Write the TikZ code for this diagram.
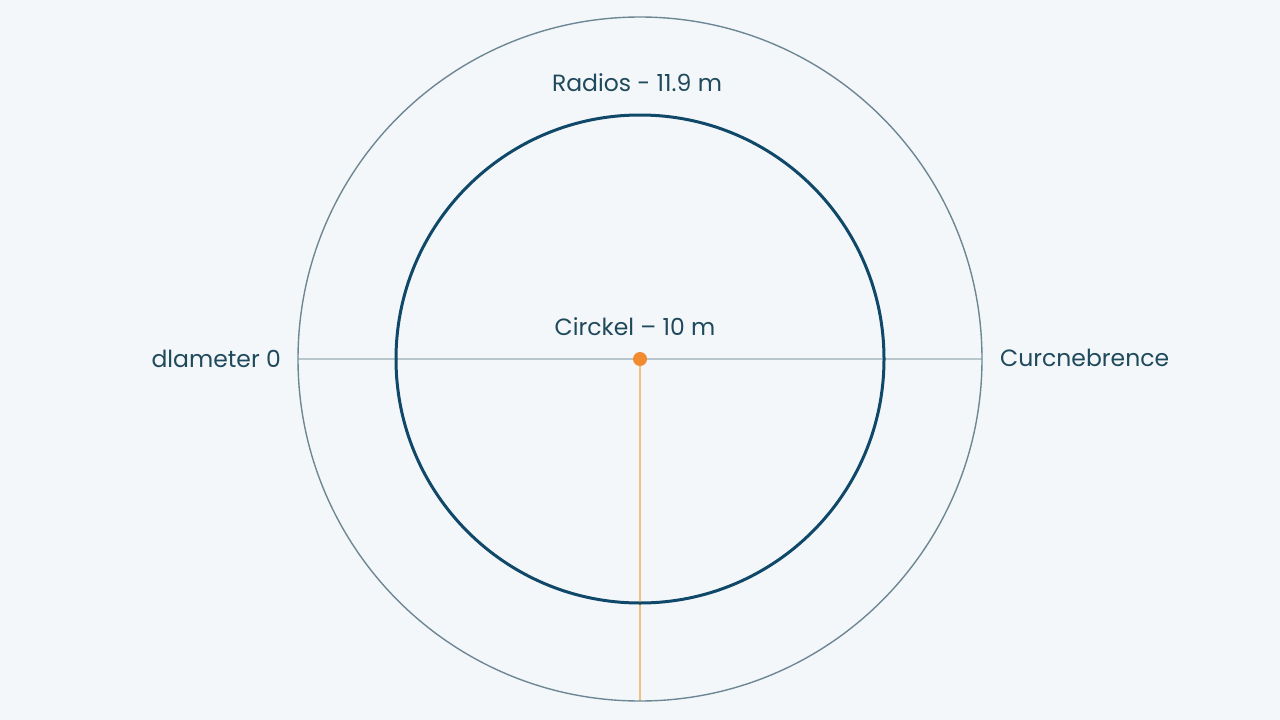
\documentclass[tikz,border=0pt]{standalone}
\usepackage{fontspec}
\setmainfont{Poppins}
\definecolor{bg}{HTML}{F4F7FA}
\definecolor{outerc}{HTML}{6E8794}
\definecolor{innerc}{HTML}{0F4868}
\definecolor{axisc}{HTML}{BAC6CE}
\definecolor{dotc}{HTML}{F28A30}
\definecolor{vlinec}{HTML}{EFC07E}
\definecolor{txtc}{HTML}{1F4A5C}
\tikzset{
  lbl/.style={text=txtc, font=\fontsize{23.5}{28}\selectfont, inner sep=0pt},
  outerring/.style={draw=outerc, line width=1.4pt},
  innerring/.style={draw=innerc, line width=3pt},
}
\begin{document}
\begin{tikzpicture}[x=1pt,y=-1pt]
\fill[bg] (0,0) rectangle (1280,720);
\useasboundingbox (0,0) rectangle (1280,720);
\coordinate (c) at (640,359);
\coordinate (left) at (298,359);
\coordinate (right) at (982,359);
\coordinate (bottom) at (640,701);
\draw[axisc, line width=1.2pt] (left) -- (right);
\draw[vlinec, line width=1.8pt] (c) -- (bottom);
\draw[outerring] (c) circle[radius=342];
\draw[innerring] (c) circle[radius=244];
\node[circle, fill=dotc, minimum size=14pt, inner sep=0pt] (dot) at (c) {};
\node[lbl] (radius) at (637,83) {Radios - 11.9 m};
\node[lbl] (circle) at (635,327) {Circkel – 10 m};
\node[lbl, anchor=east] (diam) at (281,359) {dlameter 0};
\node[lbl, anchor=west] (circ) at (1000,358) {Curcnebrence};
\end{tikzpicture}
\end{document}
